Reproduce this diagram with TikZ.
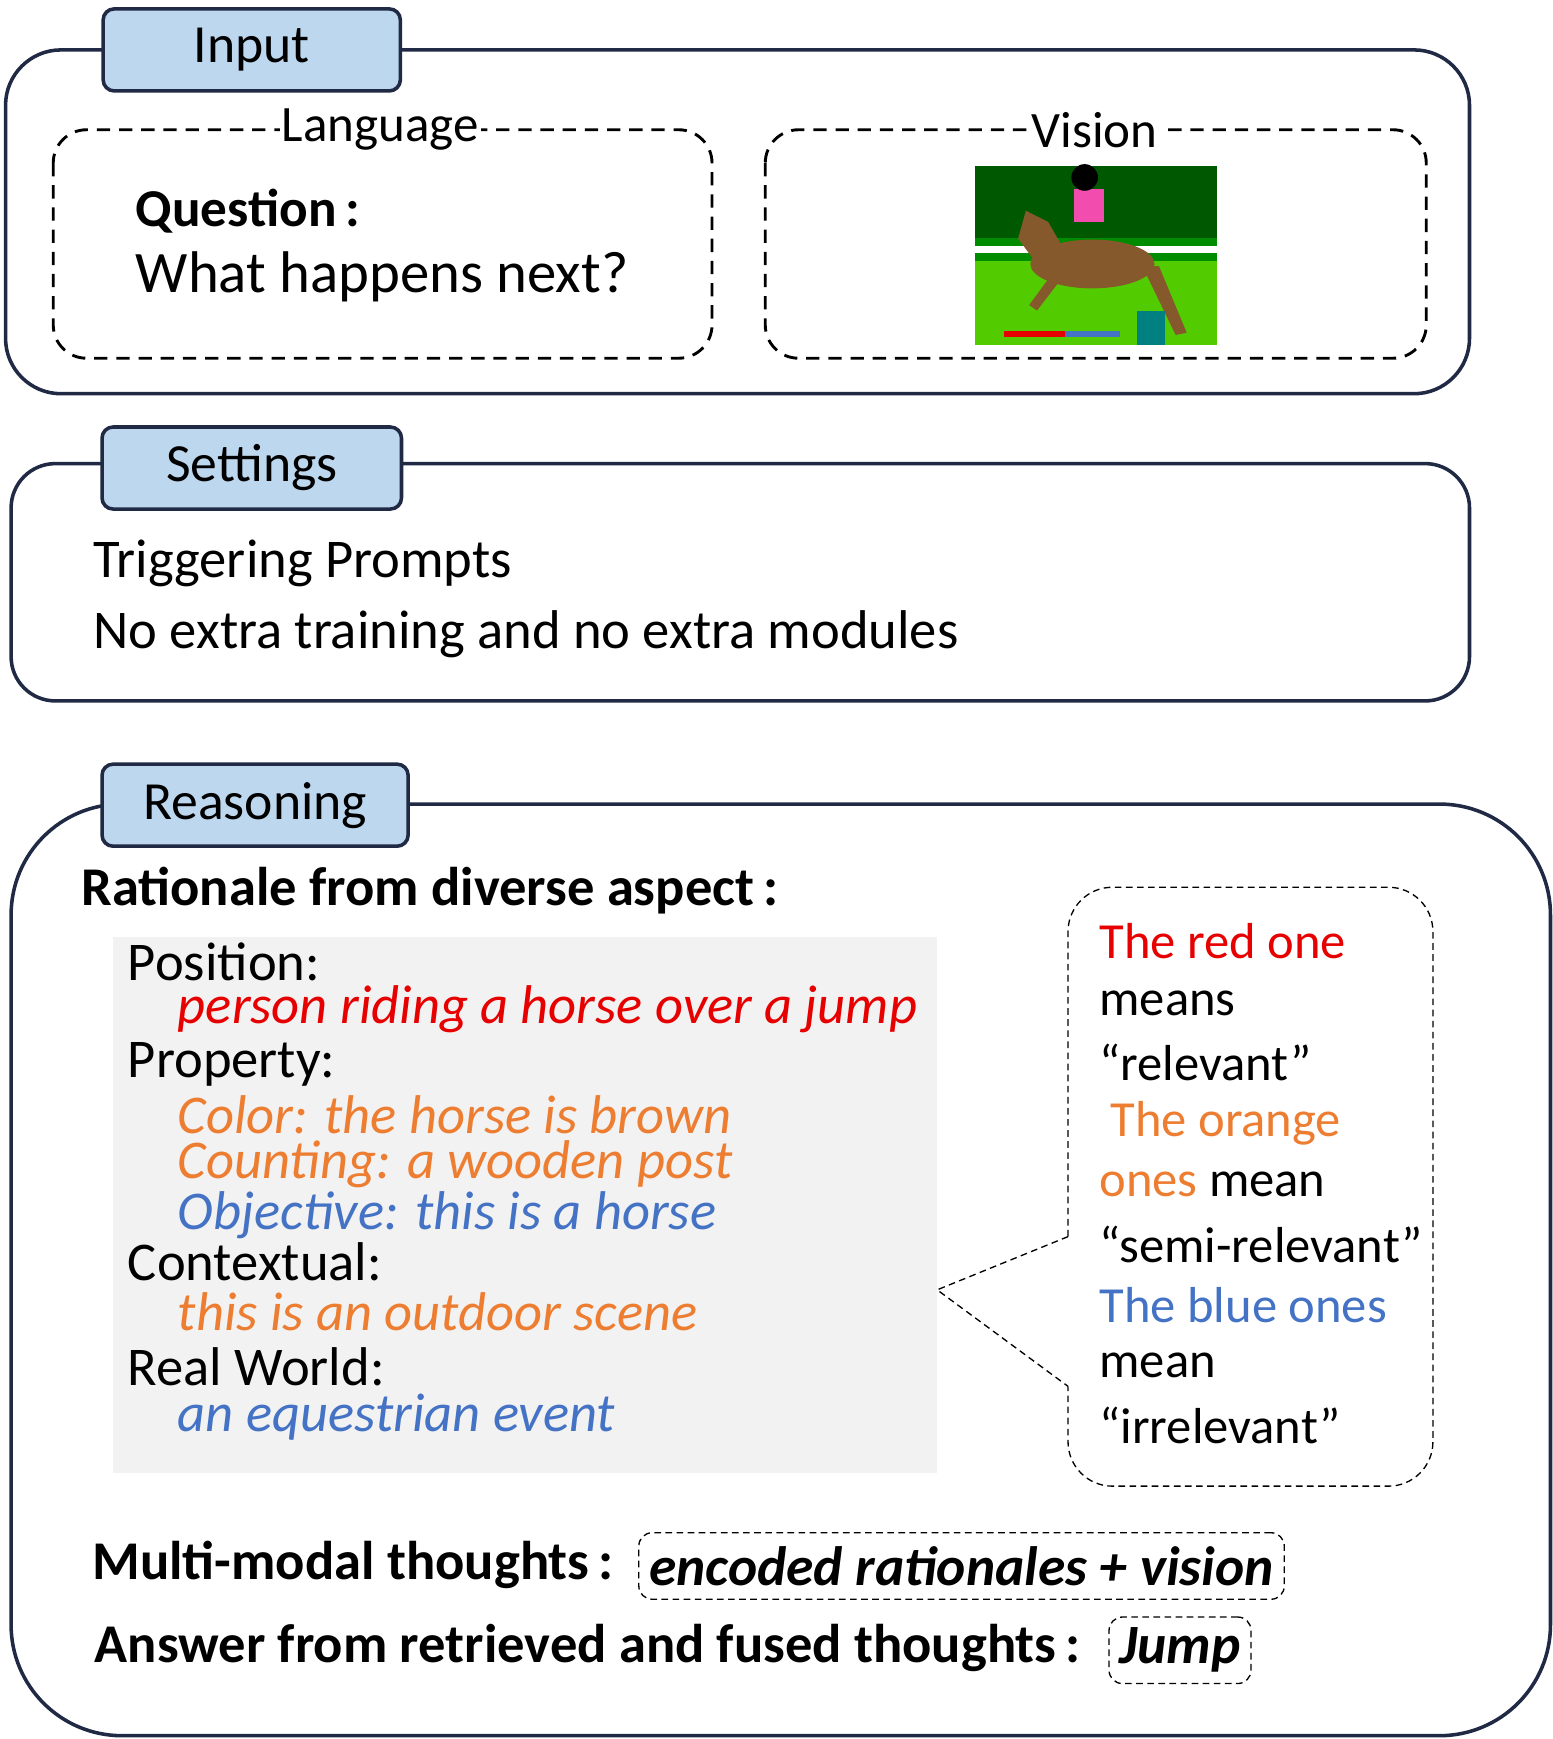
\documentclass[tikz,border=0pt]{standalone}
\usepackage{fontspec}
\setmainfont{Carlito}
\definecolor{navy}{RGB}{32,42,68}
\definecolor{tabblue}{RGB}{189,215,238}
\definecolor{myred}{RGB}{230,0,0}
\definecolor{myorange}{RGB}{237,125,49}
\definecolor{myblue}{RGB}{68,114,196}
\definecolor{graybg}{RGB}{242,242,242}
\tikzset{
  outer/.style={draw=navy,line width=1.6pt},
  tabbox/.style={draw=navy,line width=1.6pt,fill=tabblue,rounded corners=5pt},
  dbox/.style={draw=black,dashed,line width=1.3pt,dash pattern=on 6pt off 4pt},
  thin dbox/.style={draw=black,dashed,line width=0.6pt,dash pattern=on 3pt off 2pt},
  txt/.style={anchor=west,inner sep=0pt,font=\fontsize{24.6}{28}\selectfont},
  ctxt/.style={anchor=west,inner sep=0pt,font=\fontsize{22.8}{26}\selectfont},
  btxt/.style={anchor=west,inner sep=0pt,font=\fontsize{24.6}{28}\selectfont\bfseries},
  itxt/.style={anchor=west,inner sep=0pt,font=\fontsize{24.6}{28}\selectfont\itshape},
  tabtxt/.style={font=\fontsize{24.2}{28}\selectfont},
}
\begin{document}
\begin{tikzpicture}[x=0.5pt,y=-0.5pt]
\useasboundingbox (0,0) rectangle (1400,1568);
% Input
\draw[outer,rounded corners=25pt] (5,45) rectangle (1325,355);
\node[tabbox,minimum width=134pt,minimum height=37pt] (intab) at (227,45) {};
\node[tabtxt] (intxt) at (227,45) {Input};
\draw[dbox,rounded corners=15pt] (48,117) rectangle (642,323);
\node[fill=white,inner sep=1pt,font=\fontsize{23}{26}\selectfont] (lang) at (343,117) {Language};
\node[btxt,font=\fontsize{24}{28}\selectfont\bfseries] (q) at (122,190) {Question\,:};
\node[txt,font=\fontsize{26.5}{30}\selectfont] (qt) at (122,250) {What happens next?};
\draw[dbox,rounded corners=15pt] (690,117) rectangle (1286,323);
\node[fill=white,inner sep=1pt,font=\fontsize{23}{26}\selectfont] (vis) at (987,117) {Vision};
% stylized photo
\fill[green!55!black] (879,150) rectangle (1097,311);
\fill[green!35!black] (879,150) rectangle (1097,215);
\fill[green!60!yellow!80!black] (879,235) rectangle (1097,311);
\fill[white] (879,222) rectangle (1097,228);
\fill[brown!70!black] (985,238) ellipse (28pt and 11pt);
\fill[brown!70!black] (925,190) -- (945,200) -- (965,235) -- (940,245) -- (918,215) -- cycle;
\fill[brown!70!black] (1030,240) -- (1045,240) -- (1070,300) -- (1060,302) -- cycle;
\fill[brown!70!black] (950,245) -- (962,245) -- (935,280) -- (928,275) -- cycle;
\fill[magenta!70] (968,170) rectangle (995,200);
\fill[black] (978,160) circle (6pt);
\fill[myred] (905,298) rectangle (960,304);
\fill[myblue] (960,298) rectangle (1010,304);
\fill[teal] (1025,280) rectangle (1050,311);
% Settings
\draw[outer,rounded corners=20pt] (10,418) rectangle (1325,632);
\node[tabbox,minimum width=135pt,minimum height=37pt] (settab) at (227,422) {};
\node[tabtxt] (settxt) at (227,422) {Settings};
\node[txt] (t1) at (84,508) {Triggering Prompts};
\node[txt] (t2) at (84,572) {No extra training and no extra modules};
% Reasoning
\draw[outer,rounded corners=50pt] (10,725) rectangle (1398,1565);
\node[tabbox,minimum width=138pt,minimum height=37pt] (rtab) at (230,726) {};
\node[tabtxt] (rtxt) at (230,726) {Reasoning};
\node[btxt] (rat) at (73,803) {Rationale from diverse aspect\,:};
\fill[graybg] (102,845) rectangle (845,1328);
\node[txt] (p1) at (115,867) {Position:};
\node[itxt,text=myred] (p2) at (160,910) {person riding a horse over a jump};
\node[txt] (p3) at (115,960) {Property:};
\node[itxt,text=myorange] (p4) at (160,1005) {Color: the horse is brown};
\node[itxt,text=myorange] (p5) at (160,1050) {Counting: a wooden post};
\node[itxt,text=myblue] (p6) at (160,1096) {Objective: this is a horse};
\node[txt] (p7) at (115,1138) {Contextual:};
\node[itxt,text=myorange] (p8) at (160,1183) {this is an outdoor scene};
\node[txt] (p9) at (115,1232) {Real World:};
\node[itxt,text=myblue] (p10) at (160,1278) {an equestrian event};
% callout
\coordinate (tip) at (845,1163);
\draw[thin dbox,rounded corners=20pt] (963,1115) -- (963,800) -- (1292,800) -- (1292,1340) -- (963,1340) -- (963,1250);
\draw[thin dbox] (963,1115) -- (tip) -- (963,1250);
\node[ctxt,text=myred] (c1) at (991,849) {The red one};
\node[ctxt] (c2) at (991,905) {means};
\node[ctxt] (c3) at (991,958) {“relevant”};
\node[ctxt,text=myorange] (c4) at (1001,1013) {The orange};
\node[ctxt] (c5) at (991,1068) {\textcolor{myorange}{ones} mean};
\node[ctxt] (c6) at (991,1122) {“semi-relevant”};
\node[ctxt,text=myblue] (c7) at (991,1177) {The blue ones};
\node[ctxt] (c8) at (991,1231) {mean};
\node[ctxt] (c9) at (991,1285) {“irrelevant”};
% bottom
\node[btxt] (mm) at (83,1411) {Multi-modal thoughts\,:};
\node[thin dbox,rounded corners=6pt,minimum width=291pt,minimum height=30pt,inner xsep=2pt,font=\fontsize{25}{28}\selectfont\bfseries\itshape] (enc) at (867,1412) {encoded rationales + vision};
\node[btxt] (ans) at (85,1486) {Answer from retrieved and fused thoughts\,:};
\node[thin dbox,rounded corners=6pt,minimum width=64pt,minimum height=30pt,inner xsep=2pt,font=\fontsize{25}{28}\selectfont\bfseries\itshape] (jump) at (1064,1488) {Jump};
\end{tikzpicture}
\end{document}
